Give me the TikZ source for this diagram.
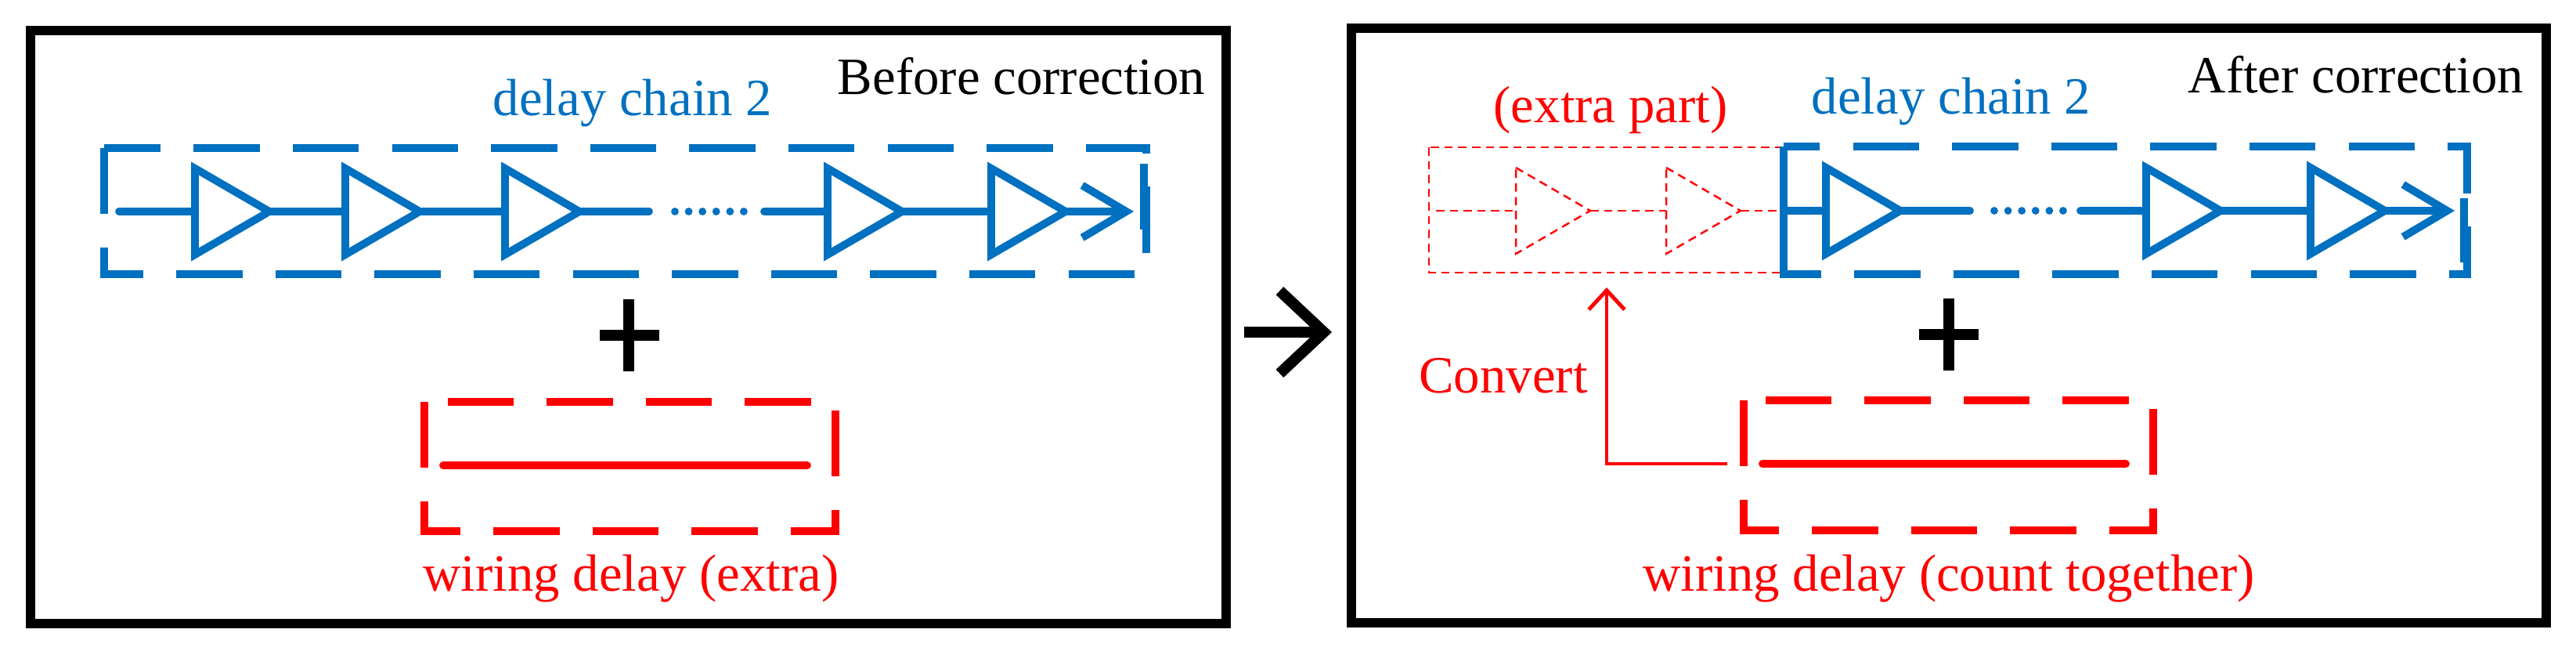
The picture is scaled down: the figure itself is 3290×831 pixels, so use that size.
\documentclass[tikz,border=0pt]{standalone}
\usepackage{fontspec}
\setmainfont{Liberation Serif}
\usetikzlibrary{arrows.meta}
\definecolor{cblue}{HTML}{0070C0}
\definecolor{cred}{HTML}{FF0000}
\begin{document}
\begin{tikzpicture}[x=0.01cm,y=-0.01cm,
  frame/.style={draw=black,line width=3.4pt},
  lbl/.style={font=\fontsize{19}{22}\selectfont,inner sep=0pt},
  bbox/.style={draw=cblue,line width=2.8pt,dash pattern=on 24pt off 12pt},
  rbox/.style={draw=cred,line width=2.8pt,dash pattern=on 24pt off 12pt},
  bwire/.style={draw=cblue,line width=2.8pt,line cap=round},
  rwire/.style={draw=cred,line width=2.8pt,line cap=round},
  dots/.style={draw=cblue,line width=2.8pt,line cap=round,dash pattern=on 0pt off 5pt},
  thin/.style={draw=cred,line width=0.7pt,dash pattern=on 3pt off 2pt},
  plus/.style={draw=black,line width=4.2pt},
  buf/.pic={\draw[pic actions] (0,-55) -- (95,0) -- (0,55) -- cycle;}
]
\useasboundingbox (0,0) rectangle (3290,831);
% ---------- left panel ----------
\draw[frame] (39,39) rectangle (1566,796);
\node[lbl,anchor=east] (t1) at (1540,97) {Before correction};
\node[lbl,text=cblue] (c1) at (808,132) {delay chain 2};
\draw[bbox] (133,189) rectangle (1464,350);
\coordinate (a0) at (152,270);
\foreach \x in {249,441,645,1057,1266}{
  \pic[draw=cblue,line width=2.8pt] at (\x,270) {buf};
}
\draw[bwire] (a0) -- (249,270);
\draw[bwire] (344,270) -- (441,270);
\draw[bwire] (536,270) -- (645,270);
\draw[bwire] (740,270) -- (829,270);
\draw[dots] (862,270) -- (950,270);
\draw[bwire] (976,270) -- (1057,270);
\draw[bwire] (1152,270) -- (1266,270);
\coordinate (aend) at (1448,270);
\draw[bwire,-{Straight Barb[length=16pt,width=19pt,line width=2.8pt]}] (1361,270) -- (aend);
\draw[draw=cblue,line width=2.8pt] (1461,209) -- (1461,293);
\draw[plus] (803,382) -- (803,474);
\draw[plus] (766,428) -- (842,428);
\draw[rbox] (542,513) rectangle (1067,678);
\draw[rwire] (566,594) -- (1031,594);
\node[lbl,text=cred] (w1) at (806,739) {wiring delay (extra)};
% ---------- middle arrow ----------
\coordinate (m0) at (1589,424);
\coordinate (m1) at (1701,424);
\draw[line width=4pt,-{Straight Barb[length=16pt,width=30pt,line width=4pt]}] (m0) -- (m1);
% ---------- right panel ----------
\draw[frame] (1726,36) rectangle (3252,795);
\node[lbl,anchor=east] (t2) at (3224,95) {After correction};
\node[lbl,text=cred] (ep) at (2057,140) {(extra part)};
\node[lbl,text=cblue] (c2) at (2492,130) {delay chain 2};
\draw[thin] (1825,188) rectangle (2278,348);
\foreach \x in {1936,2128}{
  \pic[thin] at (\x,269) {buf};
}
\draw[thin] (1834,269) -- (1936,269);
\draw[thin] (2031,269) -- (2128,269);
\draw[thin] (2223,269) -- (2278,269);
\draw[bbox] (2278,187) rectangle (3151,350);
\draw[draw=cblue,line width=2.8pt] (2278,187) -- (2278,350);
\foreach \x in {2332,2741,2951}{
  \pic[draw=cblue,line width=2.8pt] at (\x,269) {buf};
}
\draw[bwire] (2280,269) -- (2332,269);
\draw[bwire] (2427,269) -- (2516,269);
\draw[dots] (2547,269) -- (2635,269);
\draw[bwire] (2657,269) -- (2741,269);
\draw[bwire] (2836,269) -- (2951,269);
\coordinate (bend) at (3135,269);
\draw[bwire,-{Straight Barb[length=16pt,width=19pt,line width=2.8pt]}] (3046,269) -- (bend);
\draw[draw=cblue,line width=2.8pt] (3147,253) -- (3147,335);
\draw[plus] (2489,381) -- (2489,473);
\draw[plus] (2451,427) -- (2527,427);
\draw[rbox] (2227,511) rectangle (2750,677);
\draw[rwire] (2251,592) -- (2715,592);
\coordinate (cv0) at (2206,592);
\coordinate (cv1) at (2052,367);
\draw[draw=cred,line width=1.4pt,-{Straight Barb[length=7pt,width=13pt,line width=1.4pt]}] (cv0) -| (cv1);
\node[lbl,text=cred] (cv) at (1920,480) {Convert};
\node[lbl,text=cred] (w2) at (2489,739) {wiring delay (count together)};
\end{tikzpicture}
\end{document}
